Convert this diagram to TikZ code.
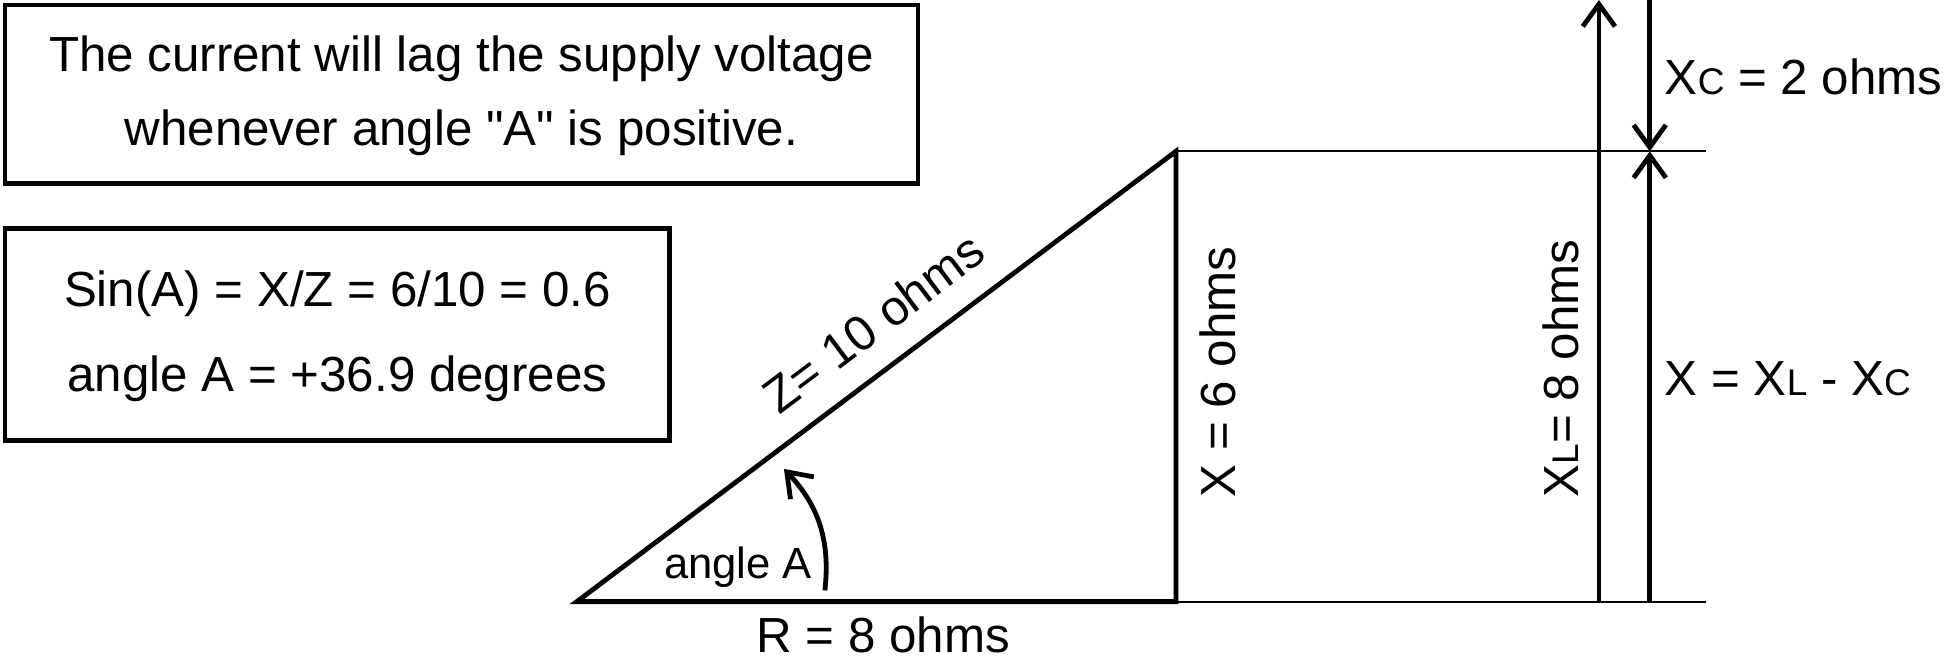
\documentclass[tikz,border=0pt]{standalone}
\usepackage{fontspec}
\setmainfont{Liberation Sans}
\usetikzlibrary{arrows.meta,positioning}
\tikzset{%
     textbox/.style = { draw, line width=1.1pt, inner sep=0pt },
       label/.style = { font=\fontsize{11.3}{14}\selectfont, align=center },
        side/.style = { line width=1.1pt },
       guide/.style = { line width=0.4pt },
      vector/.style = { line width=1.1pt, -{Straight Barb[length=1.8mm,width=2.6mm]} }
}
\newcommand{\sml}[1]{{\fontsize{8.5}{10}\selectfont #1}}
\begin{document}
\begin{tikzpicture}[x=0.01cm,y=-0.01cm]
\useasboundingbox (0,0) rectangle (1568,535);
% text boxes
\draw[textbox] (4,4) rectangle (740,148);
\node[label] (lag) at (372,77) {The current will lag the supply voltage\\[3pt] whenever angle \textquotedbl A\textquotedbl\ is positive.};
\draw[textbox] (4,184) rectangle (540,355);
\node[label] (sin) at (272,237) {Sin(A) = X/Z = 6/10 = 0.6};
\node[label] (ang) at (272,305) {angle A = +36.9 degrees};
% triangle
\coordinate (A) at (465,485);
\coordinate (B) at (948,485);
\coordinate (C) at (948,122);
\draw[side] (A) -- (B) -- (C) -- cycle;
\node[label] (R) at (712,512) {R = 8 ohms};
\node[label,rotate=90] (X) at (982,300) {X = 6 ohms};
\node[label,rotate=36.9] (Z) at (704,260) {Z= 10 ohms};
\node[label,font=\fontsize{10}{12}\selectfont] (angA) at (595,457) {angle A};
\draw[vector] (665,476) to[bend right=25] (632,378);
% guide lines
\coordinate (t1) at (1375,122);
\coordinate (b1) at (1375,485);
\draw[guide] (C) -- (t1);
\draw[guide] (B) -- (b1);
% reactance vectors
\coordinate (XLb) at (1289,485);
\coordinate (XLt) at (1289,0);
\coordinate (Xb) at (1330,485);
\coordinate (Xt) at (1330,122);
\coordinate (Xct) at (1330,0);
\draw[vector] (XLb) -- (XLt);
\draw[vector] (Xb) -- (Xt);
\draw[vector] (Xct) -- (Xt);
\node[label,anchor=west,inner sep=1pt] (Xc) at (1338,62) {X\sml{C} = 2 ohms};
\node[label,anchor=west,inner sep=1pt] (Xd) at (1338,305) {X = X\sml{L} - X\sml{C}};
\node[label,rotate=90] (XL) at (1258,297) {X\sml{L}= 8 ohms};
\end{tikzpicture}
\end{document}
